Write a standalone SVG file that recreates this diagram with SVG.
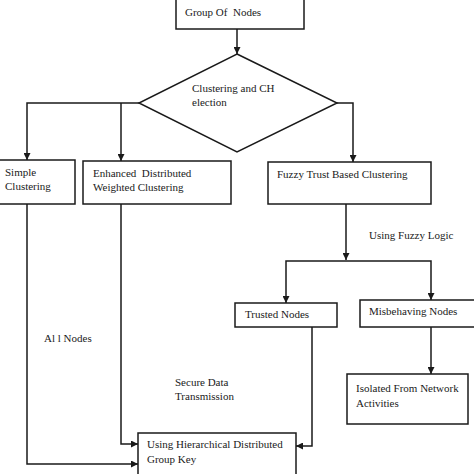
<svg xmlns="http://www.w3.org/2000/svg" width="474" height="474" viewBox="0 0 474 474">
<style>
.b{fill:#fff;stroke:#1a1a1a;stroke-width:1.5}
.c{fill:none;stroke:#1a1a1a;stroke-width:1.5}
text{font-family:"Liberation Serif","Times New Roman",serif;font-size:11px;fill:#1a1a1a;white-space:pre}
</style>
<defs>
<marker id="a" viewBox="0 0 10 10" refX="10" refY="5" markerWidth="7" markerHeight="7" markerUnits="userSpaceOnUse" orient="auto">
<path d="M0,0L10,5L0,10z" fill="#1a1a1a"/>
</marker>
</defs>
<rect width="474" height="474" fill="#fff"/>
<g id="connectors">
<path class="c" d="M237,29V54" marker-end="url(#a)"/>
<path class="c" d="M139,103H27V160" marker-end="url(#a)"/>
<path class="c" d="M121,103V161" marker-end="url(#a)"/>
<path class="c" d="M337,103H353V162" marker-end="url(#a)"/>
<path class="c" d="M346,204V260" marker-end="url(#a)"/>
<path class="c" d="M346,261H286V303" marker-end="url(#a)"/>
<path class="c" d="M346,261H431V300" marker-end="url(#a)"/>
<path class="c" d="M431,327V374" marker-end="url(#a)"/>
<path class="c" d="M27,204V464H138" marker-end="url(#a)"/>
<path class="c" d="M121,204V444H138" marker-end="url(#a)"/>
<path class="c" d="M312,327V446H296" marker-end="url(#a)"/>
</g>
<g id="group">
<rect class="b" x="176" y="-1" width="128" height="30"/>
<text x="185" y="16" xml:space="preserve">Group Of  Nodes</text>
</g>
<g id="clustering">
<polygon class="b" points="237,54 337,103 237,152 139,103"/>
<text x="192" y="92">Clustering and CH</text>
<text x="192" y="106">election</text>
</g>
<g id="simple">
<rect class="b" x="-1" y="160" width="76" height="44"/>
<text x="5" y="176">Simple</text>
<text x="5" y="190">Clustering</text>
</g>
<g id="enhanced">
<rect class="b" x="83" y="161" width="148" height="43"/>
<text x="93" y="177" xml:space="preserve">Enhanced  Distributed</text>
<text x="93" y="191">Weighted Clustering</text>
</g>
<g id="fuzzy">
<rect class="b" x="268" y="162" width="163" height="42"/>
<text x="277" y="178">Fuzzy Trust Based Clustering</text>
</g>
<text x="369" y="239">Using Fuzzy Logic</text>
<g id="trusted">
<rect class="b" x="235" y="303" width="102" height="24"/>
<text x="245" y="318">Trusted Nodes</text>
</g>
<g id="misbehaving">
<rect class="b" x="360" y="300" width="116" height="27"/>
<text x="369" y="315">Misbehaving Nodes</text>
</g>
<g id="isolated">
<rect class="b" x="347" y="374" width="121" height="50"/>
<text x="356" y="392">Isolated From Network</text>
<text x="356" y="407">Activities</text>
</g>
<g id="key">
<rect class="b" x="138" y="433" width="158" height="44"/>
<text x="147" y="448">Using Hierarchical Distributed</text>
<text x="147" y="463">Group Key</text>
</g>
<text x="44" y="342">Al l Nodes</text>
<text x="175" y="386">Secure Data</text>
<text x="175" y="400">Transmission</text>
</svg>
